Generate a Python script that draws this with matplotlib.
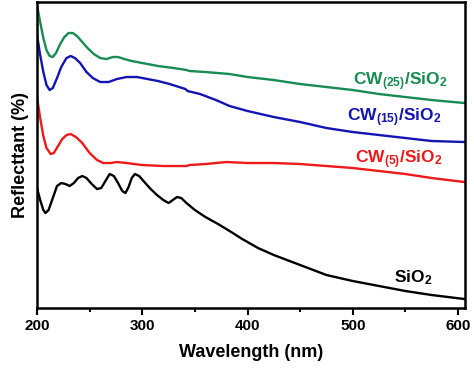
import numpy as np
import matplotlib
matplotlib.use('Agg')
import matplotlib.pyplot as plt
from matplotlib.ticker import MultipleLocator

plt.rcParams['font.family'] = ['Liberation Sans', 'DejaVu Sans']
plt.rcParams['font.weight'] = 'bold'
plt.rcParams['mathtext.fontset'] = 'custom'
plt.rcParams['mathtext.rm'] = 'Liberation Sans:bold'
plt.rcParams['mathtext.bf'] = 'Liberation Sans:bold'
plt.rcParams['mathtext.default'] = 'rm'

# espectros (unidades arbitrarias)
wl_cw25 = [200, 203, 206, 209, 212, 215, 218, 222, 226, 230, 234, 238, 243, 248, 254, 260, 266, 272, 277,
           283, 290, 300, 315, 330, 342, 345, 360, 383, 400, 425, 450, 475, 500, 525, 550, 575, 606]
r_cw25 = [303, 286, 270, 258, 252, 251, 255, 264, 271, 275, 275, 272, 266, 260, 254, 250, 249, 251, 251,
          249, 247, 245, 242, 240, 238, 237, 236, 234, 231, 228, 224, 221, 218, 214, 211, 208, 205]

wl_cw15 = [200, 203, 206, 209, 212, 215, 219, 223, 228, 232, 236, 241, 247, 253, 260, 268, 276, 285, 295,
           305, 315, 326, 335, 341, 343, 355, 370, 383, 400, 425, 450, 475, 500, 525, 550, 575, 606]
r_cw15 = [273, 253, 236, 223, 218, 220, 230, 241, 250, 252, 250, 245, 236, 230, 226, 226, 229, 231, 231,
          229, 227, 224, 221, 219, 217, 214, 208, 202, 197, 191, 186, 180, 176, 173, 170, 167, 166]

wl_cw5 = [200, 203, 206, 209, 213, 216, 220, 224, 228, 232, 237, 243, 250, 257, 263, 270, 276, 285, 300,
          320, 342, 345, 360, 380, 400, 425, 450, 475, 500, 525, 550, 575, 606]
r_cw5 = [211, 190, 172, 160, 154, 155, 162, 169, 173, 174, 171, 165, 155, 148, 145, 145, 146, 145, 143,
         142, 142, 143, 144, 146, 145, 145, 144, 142, 140, 137, 134, 130, 126]

wl_sio2 = [200, 203, 206, 208, 211, 215, 219, 223, 227, 231, 235, 239, 243, 247, 252, 257, 261, 265, 269,
           273, 277, 281, 284, 287, 290, 293, 297, 302, 308, 314, 320, 325, 329, 333, 337, 342, 350, 360,
           372, 383, 395, 410, 425, 450, 475, 500, 525, 550, 575, 606]
r_sio2 = [120, 108, 98, 95, 98, 110, 122, 125, 124, 122, 125, 130, 132, 130, 124, 119, 120, 127, 134,
          132, 125, 117, 115, 121, 130, 134, 132, 126, 119, 113, 108, 105, 108, 111, 110, 105, 98, 91,
          84, 77, 69, 60, 53, 43, 33, 27, 22, 17, 13, 9]

nomes = [r'CW$_{(25)}$/SiO$_2$', r'CW$_{(15)}$/SiO$_2$', r'CW$_{(5)}$/SiO$_2$', r'SiO$_2$']
cores = ['#178c52', '#1414b4', '#ee1a1a', 'black']

fig = plt.figure(figsize=(4.74, 3.68), dpi=100)
ax = fig.add_axes([0.0781, 0.163, 0.903, 0.8315])

series = [(wl_cw25, r_cw25), (wl_cw15, r_cw15), (wl_cw5, r_cw5), (wl_sio2, r_sio2)]
for (x, y), c in zip(series, cores):
    ax.plot(x, y, color=c, lw=1.7, solid_joinstyle='round')

# rotulos das curvas
pos_txt = [(545, 226), (539, 190), (544, 148), (557, 30)]
for (tx, ty), nome, c in zip(pos_txt, nomes, cores):
    ax.text(tx, ty, nome, color=c, fontsize=12.5, fontweight='bold', ha='center', va='center')

ax.set_xlim(200, 606.7)
ax.set_ylim(0, 306)
ax.xaxis.set_major_locator(MultipleLocator(100))
ax.xaxis.set_minor_locator(MultipleLocator(50))
ax.set_yticks([])
ax.tick_params(axis='x', which='major', direction='out', length=5, width=1.5, labelsize=11, pad=3)
ax.tick_params(axis='x', which='minor', direction='out', length=3, width=1.5)
for lab in ax.get_xticklabels():
    lab.set_fontweight('bold')
for s in ax.spines.values():
    s.set_linewidth(1.8)

ax.set_xlabel('Wavelength (nm)', fontsize=13, fontweight='bold', labelpad=8)
ax.set_ylabel('Reflecttant (%)', fontsize=13, fontweight='bold', labelpad=6)

fig.savefig('out.png', dpi=100)
